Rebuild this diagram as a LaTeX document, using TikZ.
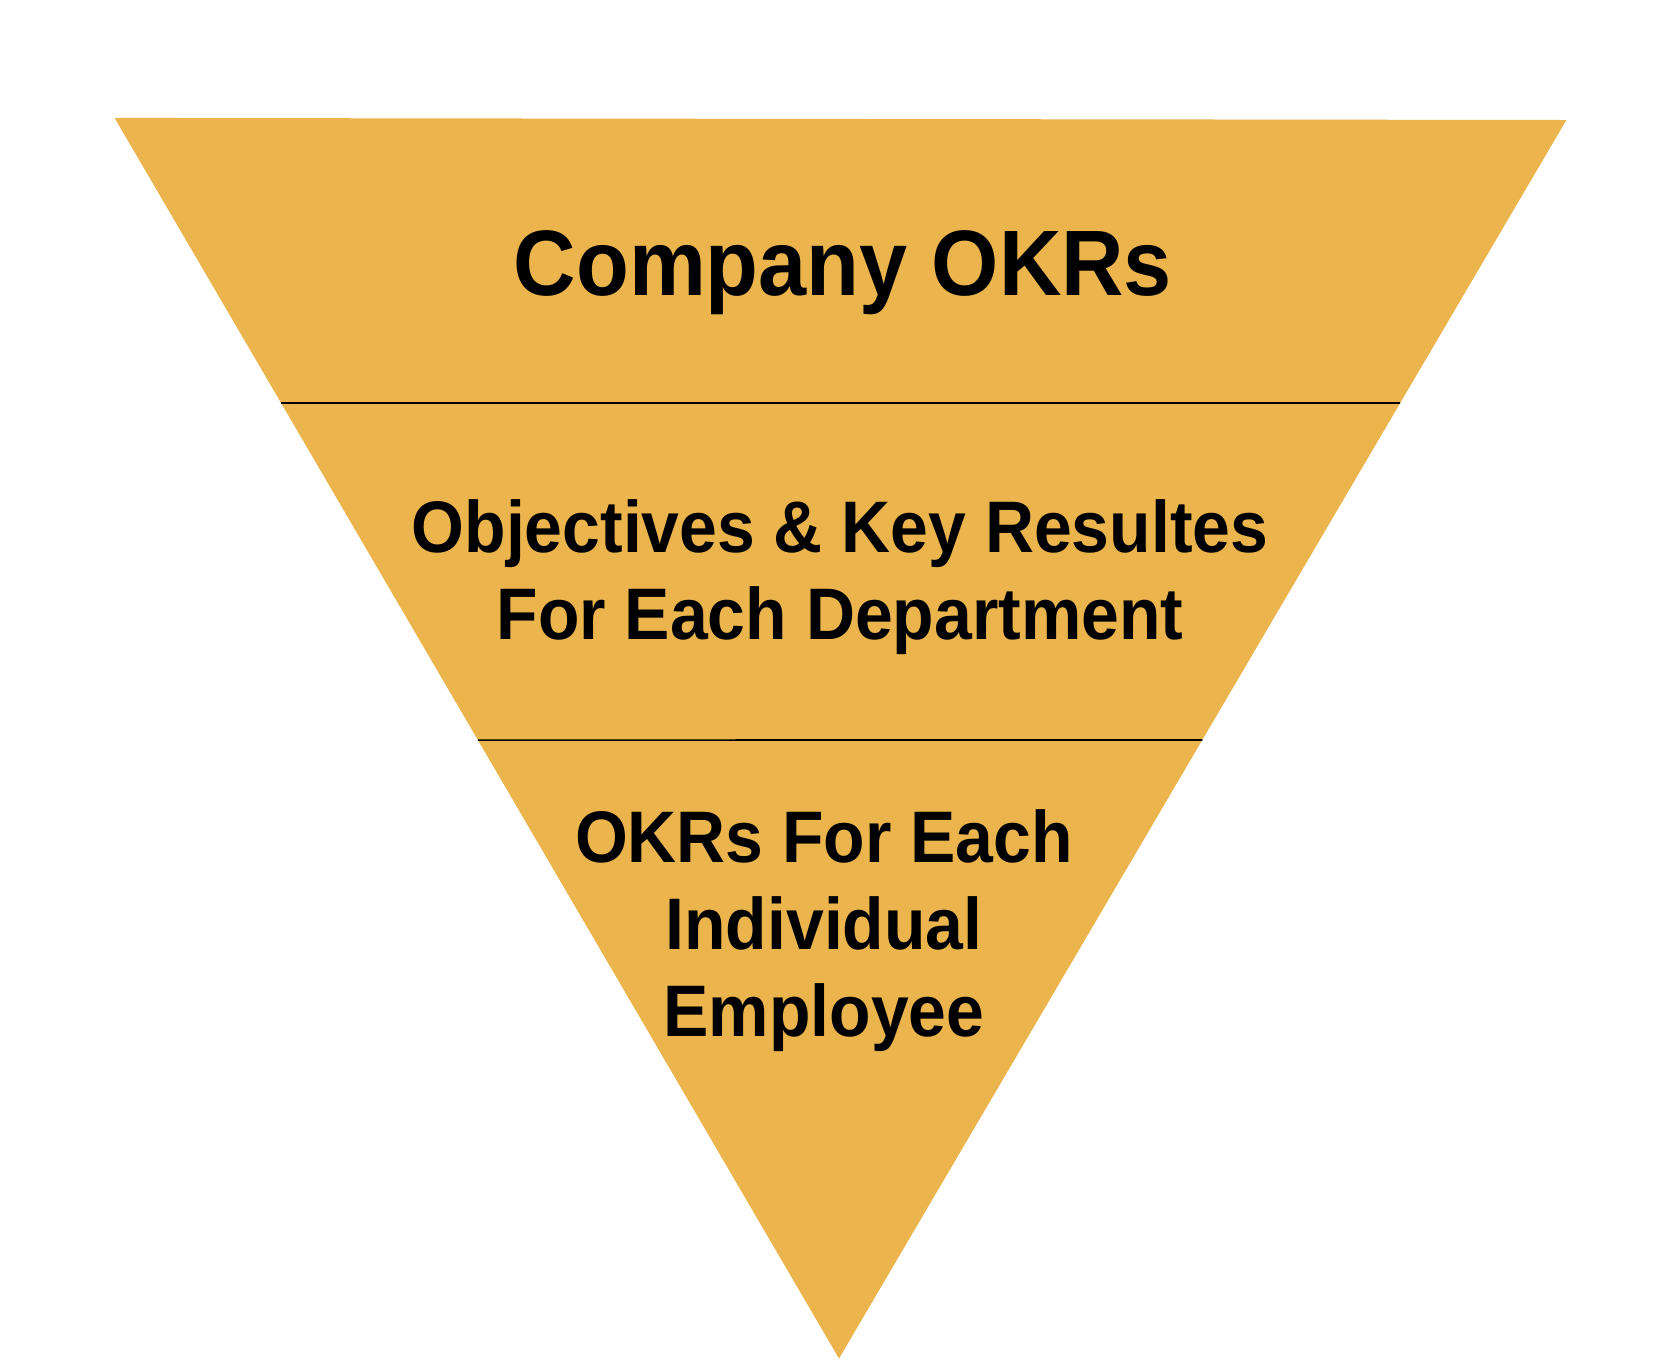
\documentclass[tikz,border=0pt]{standalone}
\usepackage{fontspec}
\setmainfont{Liberation Sans}[FakeStretch=0.93]
\usepackage{xcolor}
\usetikzlibrary{calc, positioning}
\definecolor{okrgold}{HTML}{EBB44C}

\begin{document}
\begin{tikzpicture}[
        x=0.5pt, y=-0.5pt,
        level/.style={align=center, font=\bfseries\fontsize{36.5}{43.5}\selectfont, text=black},
        divider/.style={draw=black, line width=0.8pt}
    ]
        \useasboundingbox (0,0) rectangle (1680,1367);
        \coordinate (tl) at (114.6,117.9);
        \coordinate (tr) at (1566.4,120);
        \coordinate (apex) at (839,1358.5);

        % funnel
        \fill[okrgold] (tl) -- (tr) -- (apex) -- cycle;
        \coordinate (l1) at ($(tl)!0.2298!(apex)$);
        \coordinate (r1) at ($(tr)!0.2285!(apex)$);
        \coordinate (l2) at ($(tl)!0.5015!(apex)$);
        \coordinate (r2) at ($(tr)!0.5006!(apex)$);
        \draw[divider] (l1) -- (r1);
        \draw[divider] (l2) -- (r2);

        % labels
        \node[level, font=\bfseries\fontsize{46.5}{55}\selectfont] (company) at (843,273) {Company OKRs};
        \node[level] (dept) at (840,577) {Objectives \& Key Resultes\\For Each Department};
        \node[level] (indiv) at (824,931) {OKRs For Each\\Individual\\Employee};
    \end{tikzpicture}
\end{document}
